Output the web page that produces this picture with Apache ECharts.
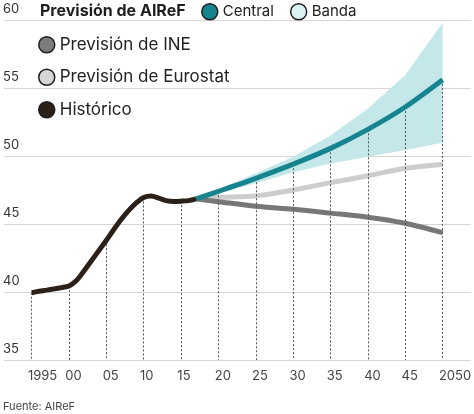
<!DOCTYPE html>
<html lang="es">
<head>
<meta charset="utf-8" />
<title>Previsión de AIReF</title>
<script src="https://cdn.jsdelivr.net/npm/echarts@6/dist/echarts.min.js"></script>
<style>
  html, body { margin: 0; padding: 0; background: #fff; }
  #main { width: 474px; height: 414px; }
</style>
</head>
<body>
<div id="main"></div>
<script type="text/javascript">

// datos historicos
var histYears = [1995, 1996, 1997, 1998, 1999, 2000, 2001, 2002, 2003, 2004, 2005, 2006,
                 2007, 2008, 2009, 2010, 2011, 2012, 2013, 2014, 2015, 2016, 2017];
var histValues = [39.95, 40.05, 40.14, 40.23, 40.32, 40.45, 40.85, 41.55, 42.3, 43.05, 43.8, 44.6,
                  45.35, 46.0, 46.55, 46.95, 47.05, 46.9, 46.72, 46.66, 46.68, 46.72, 46.85];

// previsiones
var projYears = [2017, 2020, 2025, 2030, 2035, 2040, 2045, 2050];
var central   = [46.85, 47.4, 48.36, 49.4, 50.56, 51.96, 53.6, 55.6];
var bandLow   = [46.85, 47.3, 48.0, 48.8, 49.45, 49.95, 50.44, 50.98];
var bandHigh  = [46.85, 47.55, 48.73, 49.95, 51.5, 53.5, 55.96, 59.8];
var ine       = [46.85, 46.64, 46.3, 46.08, 45.8, 45.5, 45.05, 44.36];
var eurostat  = [46.85, 46.96, 47.06, 47.5, 48.04, 48.55, 49.1, 49.4];

// eje x
var tickYears  = [1995, 2000, 2005, 2010, 2015, 2020, 2025, 2030, 2035, 2040, 2045, 2050];
var tickLabels = ['1995', '00', '05', '10', '15', '20', '25', '30', '35', '40', '45', '2050'];

var font = 'Inter';
var xMin = 1991.3, xMax = 2053.8;

function zip(xs, ys) {
    return xs.map(function (x, i) { return [x, ys[i]]; });
}

// valor de la linea superior en cada marca (de donde sale la linea punteada)
function topValue(year) {
    var i = histYears.indexOf(year);
    if (i >= 0) return histValues[i];
    return central[projYears.indexOf(year)];
}

var myChart = echarts.init(document.getElementById('main'));

var option = {
    animation: false,
    title: [{
        text: 'Previsión de AIReF',
        left: 40, top: 3, padding: 0,
        textStyle: { fontFamily: font, fontSize: 16, fontWeight: 'bold', color: '#1e1e1e' }
    }, {
        text: 'Fuente: AIReF',
        left: 3, top: 401, padding: 0,
        textStyle: { fontFamily: font, fontSize: 11, fontWeight: 'normal', color: '#444' }
    }],
    legend: [{
        left: 201, top: 3, padding: 0,
        icon: 'circle', itemWidth: 16, itemHeight: 16, itemGap: 16,
        selectedMode: false,
        textStyle: { fontFamily: font, fontSize: 15, color: '#222' },
        data: [
            { name: 'Central', itemStyle: { color: '#15848f', borderColor: '#1d1d1d', borderWidth: 1.5 } },
            { name: 'Banda', itemStyle: { color: '#dcf1f1', borderColor: '#1d1d1d', borderWidth: 1.5 } }
        ]
    }, {
        left: 38, top: 36, padding: 0, orient: 'vertical',
        icon: 'circle', itemWidth: 16, itemHeight: 16, itemGap: 15,
        selectedMode: false,
        textStyle: { fontFamily: font, fontSize: 17, lineHeight: 16, color: '#222' },
        data: [
            { name: 'Previsión de INE', itemStyle: { color: '#7b7b7b', borderColor: '#1d1d1d', borderWidth: 1.5 } },
            { name: 'Previsión de Eurostat', itemStyle: { color: '#d6d6d6', borderColor: '#1d1d1d', borderWidth: 1.5 } },
            { name: 'Histórico', itemStyle: { color: '#2b2119', borderColor: '#1d1d1d', borderWidth: 1.5 } }
        ]
    }],
    grid: { left: 2, right: 0, top: 20, bottom: 54 },
    xAxis: [{
        type: 'value', min: xMin, max: xMax,
        axisLine: { show: false }, axisTick: { show: false },
        axisLabel: { show: false }, splitLine: { show: false }
    }, {
        // solo etiquetas, desplazadas medio año a la izquierda
        type: 'value', min: xMin + 0.5, max: xMax + 0.5, position: 'bottom',
        axisLine: { show: false }, axisTick: { show: false }, splitLine: { show: false },
        axisLabel: {
            customValues: tickYears,
            align: 'left', margin: 10,
            fontFamily: font, fontSize: 13, color: '#444',
            formatter: function (v) {
                var i = tickYears.indexOf(v);
                return i >= 0 ? tickLabels[i] : '';
            }
        }
    }],
    yAxis: {
        type: 'value', min: 35, max: 60, interval: 5,
        axisLine: { show: false }, axisTick: { show: false },
        splitLine: { lineStyle: { color: '#d6d6d6', width: 1 } },
        axisLabel: {
            inside: true, margin: -1, verticalAlign: 'bottom', padding: [0, 0, 4, 0],
            fontFamily: font, fontSize: 13, color: '#333'
        }
    },
    series: [
        {
            name: 'guias', type: 'line', z: 1,
            data: [], showSymbol: false,
            markLine: {
                silent: true, symbol: ['none', 'none'],
                label: { show: false },
                lineStyle: { type: [2, 2], color: '#555', width: 1 },
                emphasis: { disabled: true },
                data: tickYears.map(function (y) {
                    return [{ coord: [y, topValue(y)] }, { coord: [y, 35] }];
                })
            }
        },
        {
            name: 'Banda', type: 'custom', z: 2, silent: true,
            data: zip(projYears, bandHigh),
            itemStyle: { color: '#dcf1f1' },
            renderItem: function (params, api) {
                if (params.dataIndex !== 0) return null;
                var pts = [];
                projYears.forEach(function (y, i) { pts.push(api.coord([y, bandHigh[i]])); });
                for (var i = projYears.length - 1; i >= 0; i--) {
                    pts.push(api.coord([projYears[i], bandLow[i]]));
                }
                return {
                    type: 'polygon',
                    shape: { points: pts },
                    style: { fill: '#c4e7ea' }
                };
            }
        },
        {
            name: 'Previsión de Eurostat', type: 'line', z: 3,
            data: zip(projYears, eurostat), showSymbol: false, smooth: 0.3,
            itemStyle: { color: '#d6d6d6' },
            lineStyle: { color: '#cdcdcd', width: 5 }
        },
        {
            name: 'Previsión de INE', type: 'line', z: 4,
            data: zip(projYears, ine), showSymbol: false, smooth: 0.3,
            itemStyle: { color: '#7b7b7b' },
            lineStyle: { color: '#777777', width: 5 }
        },
        {
            name: 'Central', type: 'line', z: 5,
            data: zip(projYears, central), showSymbol: false, smooth: 0.3,
            itemStyle: { color: '#15848f' },
            lineStyle: { color: '#15848f', width: 5 }
        },
        {
            name: 'Histórico', type: 'line', z: 6,
            data: zip(histYears, histValues), showSymbol: false, smooth: 0.3,
            itemStyle: { color: '#2b2119' },
            lineStyle: { color: '#2b2119', width: 5 }
        }
    ]
};

myChart.setOption(option);

</script>
</body>
</html>
